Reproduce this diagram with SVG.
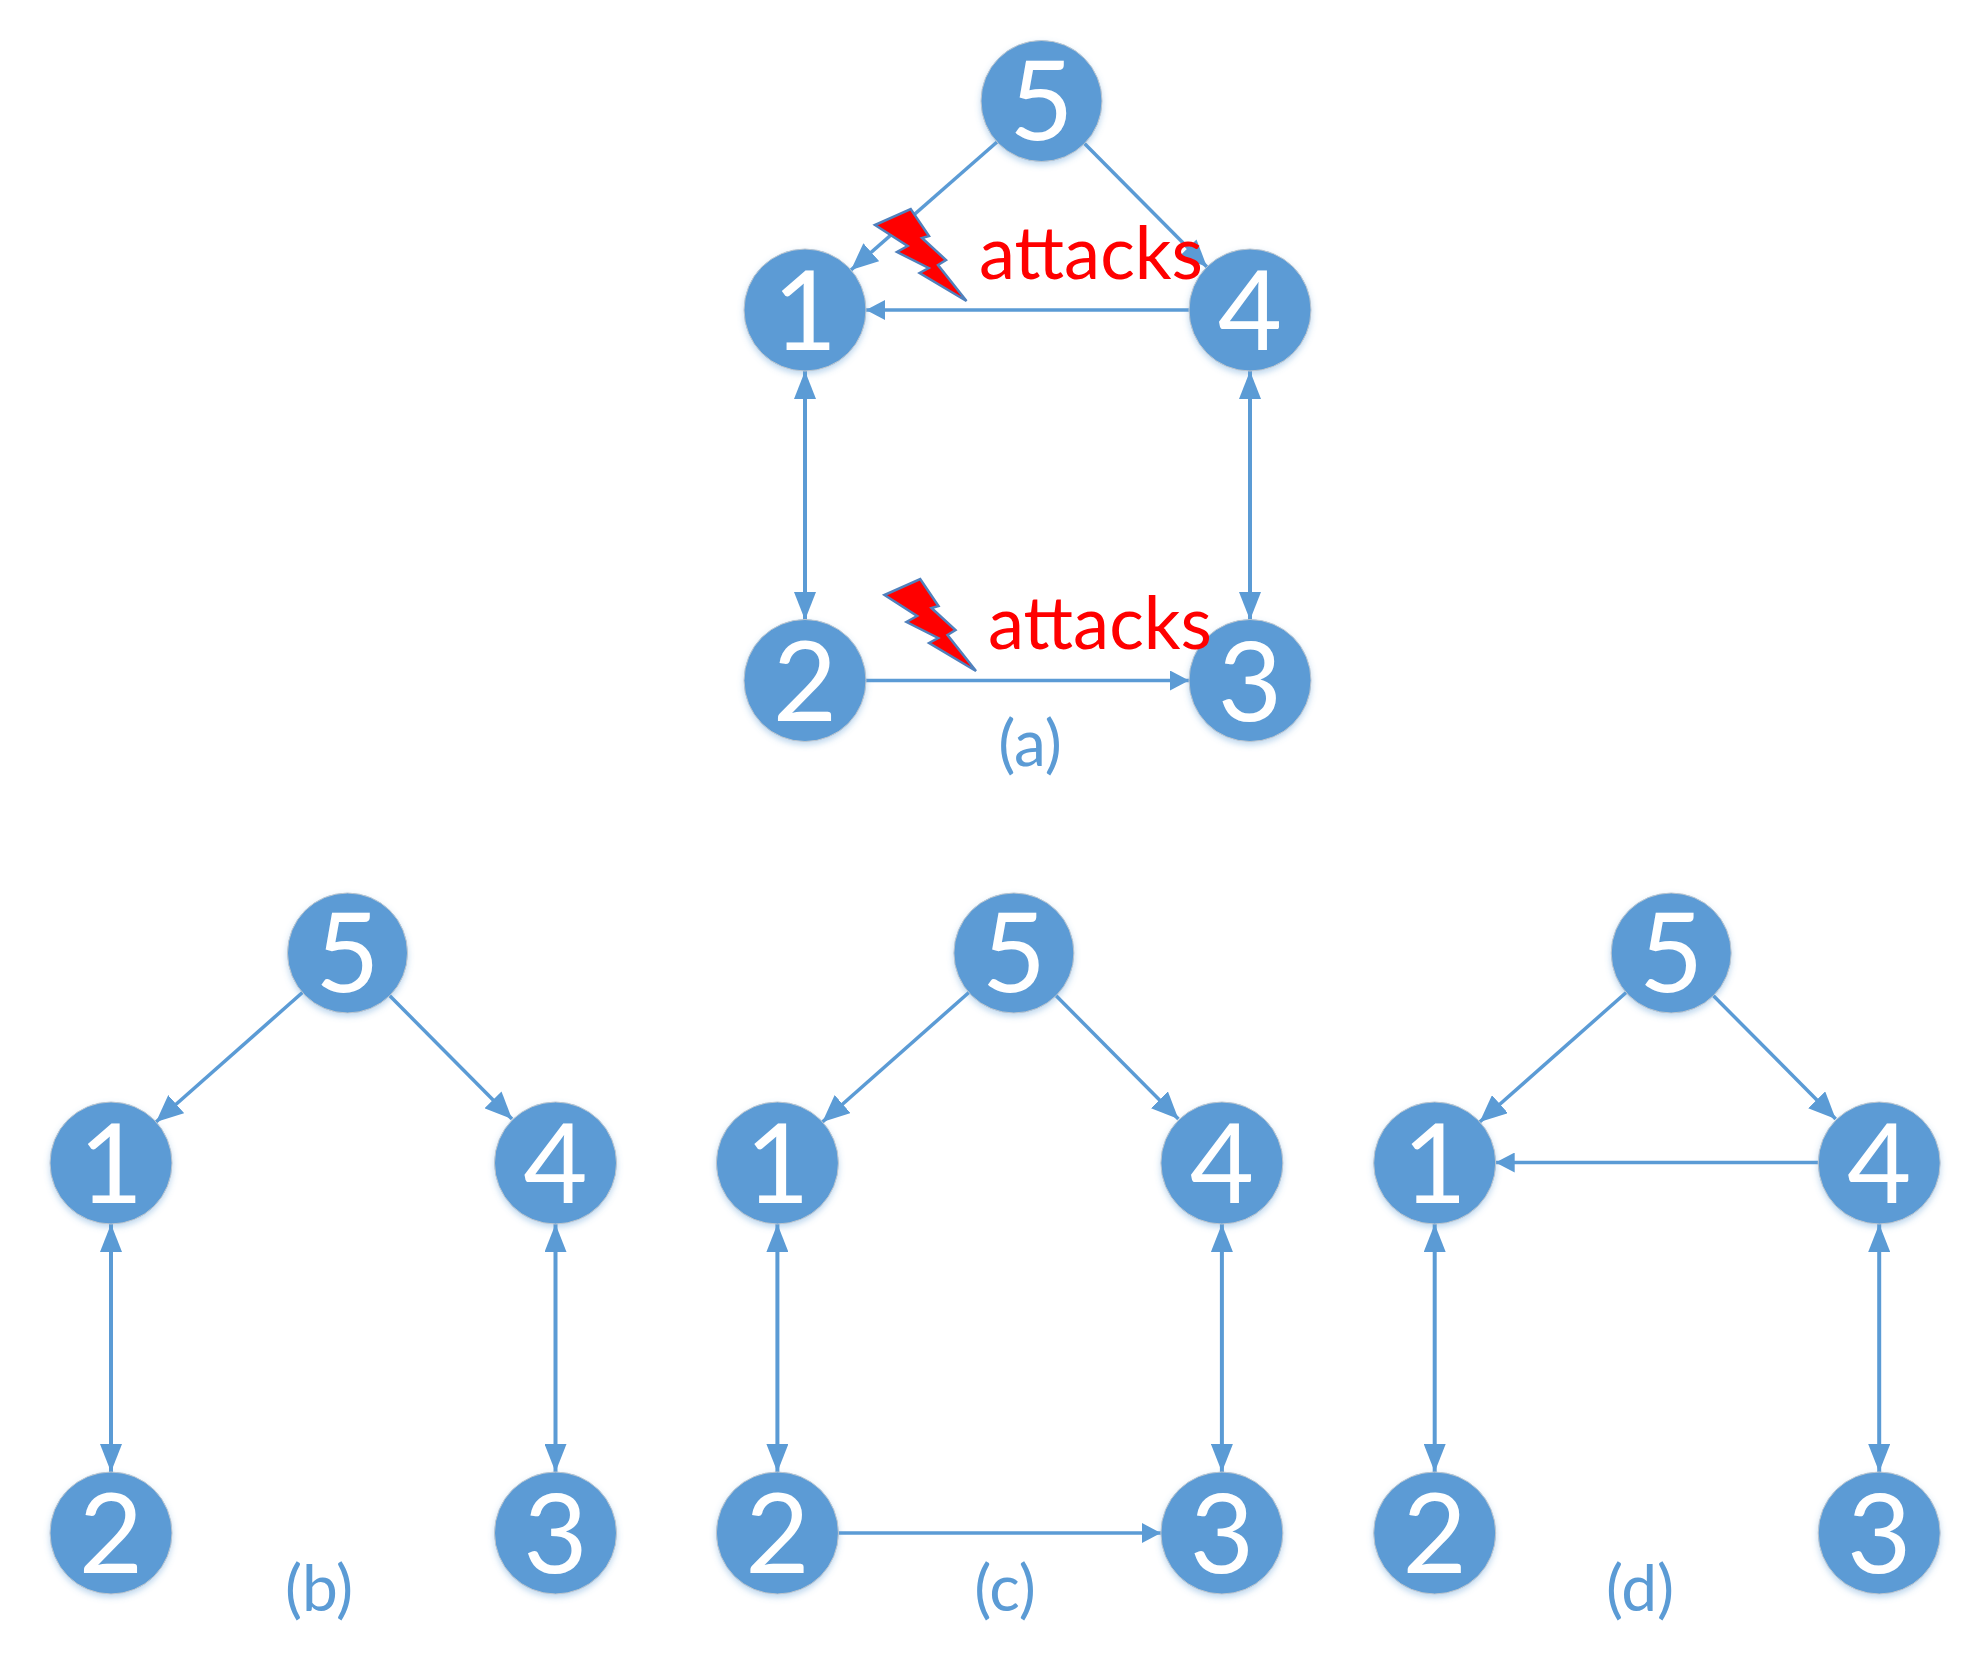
<svg xmlns="http://www.w3.org/2000/svg" width="1982" height="1667" viewBox="0 0 1982 1667">
<style>
.node circle{fill:#5B9BD5;stroke:#bcc6cf;stroke-width:1;filter:url(#sh)}
.node text{font-family:Lato,"Liberation Sans",sans-serif;font-size:111px;fill:#fff;text-anchor:middle}
.c line{stroke:#5B9BD5;stroke-width:3.5;fill:none}
.c line.v{stroke-width:4}
.d{marker-end:url(#ad)}
.h{marker-end:url(#ah)}
.v{marker-start:url(#avs);marker-end:url(#av)}
.atk{font-family:Lato,"Liberation Sans",sans-serif;font-size:73px;fill:#f00}
.cap{font-family:Lato,"Liberation Sans",sans-serif;font-size:64px;fill:#5B9BD5;text-anchor:middle}
.bolt{fill:#f00;stroke:#4f81bd;stroke-width:2.5}
</style>
<defs>
<filter id="sh" x="-20%" y="-20%" width="140%" height="140%"><feDropShadow dx="0" dy="3" stdDeviation="3" flood-color="#5B9BD5" flood-opacity=".4"/></filter>
<marker id="av" markerUnits="userSpaceOnUse" markerWidth="28" markerHeight="22" refX="28" refY="11" orient="auto"><path d="M0 0L28 11L0 22z" fill="#5B9BD5"/></marker>
<marker id="avs" markerUnits="userSpaceOnUse" markerWidth="28" markerHeight="22" refX="28" refY="11" orient="auto-start-reverse"><path d="M0 0L28 11L0 22z" fill="#5B9BD5"/></marker>
<marker id="ah" markerUnits="userSpaceOnUse" markerWidth="19" markerHeight="20" refX="19" refY="10" orient="auto"><path d="M0 0L19 10L0 20z" fill="#5B9BD5"/></marker>
<marker id="ad" markerUnits="userSpaceOnUse" markerWidth="27" markerHeight="24" refX="27" refY="12" orient="auto"><path d="M0 0L27 12L0 24z" fill="#5B9BD5"/></marker>
</defs>
<rect width="1982" height="1667" fill="#fff"/>
<g id="connectors" class="c">
<line class="d" x1="997" y1="142" x2="851" y2="270"/>
<line class="d" x1="1084" y1="143" x2="1207" y2="267"/>
<line class="h" x1="1189" y1="310" x2="866" y2="310"/>
<line class="v" x1="805" y1="371" x2="805" y2="620"/>
<line class="v" x1="1250" y1="371" x2="1250" y2="620"/>
<line class="h" x1="866" y1="680.500" x2="1189" y2="680.500"/>
<line class="d" x1="303" y1="992" x2="156" y2="1122"/>
<line class="d" x1="389" y1="995" x2="512" y2="1119"/>
<line class="v" x1="111" y1="1224" x2="111" y2="1472"/>
<line class="v" x1="555.500" y1="1224" x2="555.500" y2="1472"/>
<line class="d" x1="969.400" y1="992" x2="822.400" y2="1122"/>
<line class="d" x1="1055.400" y1="995" x2="1178.400" y2="1119"/>
<line class="v" x1="777.400" y1="1224" x2="777.400" y2="1472"/>
<line class="v" x1="1221.900" y1="1224" x2="1221.900" y2="1472"/>
<line class="h" x1="838.400" y1="1533" x2="1160.900" y2="1533"/>
<line class="d" x1="1626.700" y1="992" x2="1479.700" y2="1122"/>
<line class="d" x1="1712.700" y1="995" x2="1835.700" y2="1119"/>
<line class="v" x1="1434.700" y1="1224" x2="1434.700" y2="1472"/>
<line class="v" x1="1879.200" y1="1224" x2="1879.200" y2="1472"/>
<line class="h" x1="1818.200" y1="1162.500" x2="1495.700" y2="1162.500"/>
</g>
<g id="a5" class="node" transform="translate(1041.500,101)"><circle r="60.500"/><text y="39">5</text></g>
<g id="a1" class="node" transform="translate(805,310)"><circle r="61"/><text y="40">1</text></g>
<g id="a4" class="node" transform="translate(1250,310)"><circle r="61"/><text y="40">4</text></g>
<g id="a2" class="node" transform="translate(805,680.500)"><circle r="61"/><text y="40">2</text></g>
<g id="a3" class="node" transform="translate(1250,680.500)"><circle r="61"/><text y="40">3</text></g>
<g id="b5" class="node" transform="translate(347.500,953)"><circle r="60"/><text y="39">5</text></g>
<g id="b1" class="node" transform="translate(111,1163)"><circle r="61"/><text y="40">1</text></g>
<g id="b4" class="node" transform="translate(555.500,1163)"><circle r="61"/><text y="40">4</text></g>
<g id="b2" class="node" transform="translate(111,1533)"><circle r="61"/><text y="40">2</text></g>
<g id="b3" class="node" transform="translate(555.500,1533)"><circle r="61"/><text y="40">3</text></g>
<g id="c5" class="node" transform="translate(1013.900,953)"><circle r="60"/><text y="39">5</text></g>
<g id="c1" class="node" transform="translate(777.400,1163)"><circle r="61"/><text y="40">1</text></g>
<g id="c4" class="node" transform="translate(1221.900,1163)"><circle r="61"/><text y="40">4</text></g>
<g id="c2" class="node" transform="translate(777.400,1533)"><circle r="61"/><text y="40">2</text></g>
<g id="c3" class="node" transform="translate(1221.900,1533)"><circle r="61"/><text y="40">3</text></g>
<g id="d5" class="node" transform="translate(1671.200,953)"><circle r="60"/><text y="39">5</text></g>
<g id="d1" class="node" transform="translate(1434.700,1163)"><circle r="61"/><text y="40">1</text></g>
<g id="d4" class="node" transform="translate(1879.200,1163)"><circle r="61"/><text y="40">4</text></g>
<g id="d2" class="node" transform="translate(1434.700,1533)"><circle r="61"/><text y="40">2</text></g>
<g id="d3" class="node" transform="translate(1879.200,1533)"><circle r="61"/><text y="40">3</text></g>
<polygon id="bolt1" class="bolt" points="875,225 910.700,209 929,236 922,238 946,260 938,265 966.500,301 919.600,273 928.600,268 897,252 907.600,246"/>
<polygon id="bolt2" class="bolt" points="884.500,595 920.200,579 938.500,606 931.500,608 955.500,630 947.500,635 976,671 929.100,643 938.100,638 906.500,622 917.100,616"/>
<text class="atk" x="979" y="279" textLength="224" lengthAdjust="spacingAndGlyphs">attacks</text>
<text class="atk" x="988" y="649" textLength="224" lengthAdjust="spacingAndGlyphs">attacks</text>
<text class="cap" x="1030" y="766">(a)</text>
<text class="cap" x="319" y="1611">(b)</text>
<text class="cap" x="1005" y="1611">(c)</text>
<text class="cap" x="1640" y="1611">(d)</text>
</svg>
